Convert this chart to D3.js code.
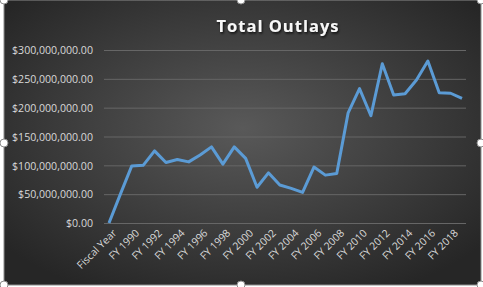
<!DOCTYPE html>
<html>
<head>
<meta charset="utf-8">
<script src="https://cdn.jsdelivr.net/npm/d3@7"></script>
<style>
  body { margin: 0; background: #fff; }
  svg { display: block; }
</style>
</head>
<body>
<div id="chart"></div>
<script>
// categories and values
const categories = ['Fiscal Year'];
for (let y = 1989; y <= 2019; y++) categories.push('FY ' + y);
const outlays = [0, 50e6, 99e6, 100e6, 125e6, 105e6, 110e6, 106e6, 118e6, 132e6,
                 102e6, 132e6, 112e6, 62e6, 87e6, 66e6, 60e6, 53e6, 97e6, 83e6,
                 86e6, 191e6, 233e6, 186e6, 276e6, 222e6, 224e6, 248e6, 281e6, 226e6,
                 225e6, 216e6];
const yTicks = [0, 50e6, 100e6, 150e6, 200e6, 250e6, 300e6];

const width = 483, height = 287;
const plotLeft = 109, plotRight = 462, plotTop = 50, plotBottom = 223;

const svg = d3.select('#chart').append('svg')
    .attr('width', width)
    .attr('height', height);

// background gradient
const defs = svg.append('defs');
const grad = defs.append('radialGradient')
    .attr('id', 'bg')
    .attr('cx', '50%').attr('cy', '45%').attr('r', '65%');
grad.append('stop').attr('offset', '0%').attr('stop-color', '#595959');
grad.append('stop').attr('offset', '100%').attr('stop-color', '#262626');

const shadow = defs.append('filter').attr('id', 'shadow')
    .attr('x', '-10%').attr('y', '-30%').attr('width', '120%').attr('height', '160%');
shadow.append('feDropShadow')
    .attr('dx', 1).attr('dy', 1.5).attr('stdDeviation', 1)
    .attr('flood-color', '#000').attr('flood-opacity', 0.8);

svg.append('rect')
    .attr('x', 4).attr('y', 0)
    .attr('width', 477).attr('height', 285)
    .attr('fill', 'url(#bg)')
    .attr('stroke', '#8c8c8c')
    .attr('stroke-width', 1);

//Scales
const xScale = d3.scalePoint()
    .domain(categories)
    .range([plotLeft, plotRight]);

const yScale = d3.scaleLinear()
    .domain([0, 300e6])
    .range([plotBottom, plotTop]);

// gridlines
svg.append('g')
    .selectAll('line')
    .data(yTicks)
    .enter()
    .append('line')
    .attr('x1', 104)
    .attr('x2', 466)
    .attr('y1', d => yScale(d) + 0.5)
    .attr('y2', d => yScale(d) + 0.5)
    .attr('stroke', '#666')
    .attr('stroke-width', 1);

//Axes
const yAxis = d3.axisLeft(yScale)
    .tickValues(yTicks)
    .tickSize(0)
    .tickPadding(0)
    .tickFormat(d => '$' + d3.format(',.2f')(d));

const yG = svg.append('g')
    .attr('transform', 'translate(93,0)')
    .call(yAxis);
yG.select('.domain').remove();
yG.selectAll('text')
    .attr('fill', '#d9d9d9')
    .attr('font-family', 'Open Sans, sans-serif')
    .attr('font-size', '10.6px')
    .attr('dy', '0.35em');

const xAxis = d3.axisBottom(xScale)
    .tickValues(categories.filter((d, i) => i % 2 == 0))
    .tickSize(0);

const xG = svg.append('g')
    .attr('transform', 'translate(0,' + (plotBottom + 6) + ')')
    .call(xAxis);
xG.select('.domain').remove();
xG.selectAll('text')
    .attr('fill', '#d9d9d9')
    .attr('font-family', 'Open Sans, sans-serif')
    .attr('font-size', '10.4px')
    .attr('text-anchor', 'end')
    .attr('dy', '0.35em')
    .attr('transform', 'translate(3,0) rotate(-45)');

// the line
const line = d3.line()
    .x((d, i) => xScale(categories[i]))
    .y(d => yScale(d));

svg.append('path')
    .datum(outlays)
    .attr('d', line)
    .attr('fill', 'none')
    .attr('stroke', '#5b9bd5')
    .attr('stroke-width', 3)
    .attr('stroke-linejoin', 'round');

// title
svg.append('text')
    .attr('x', 278)
    .attr('y', 32)
    .attr('text-anchor', 'middle')
    .attr('fill', '#f7f7f7')
    .attr('font-family', 'Open Sans, sans-serif')
    .attr('font-weight', 'bold')
    .attr('font-size', '16.5px')
    .attr('letter-spacing', '1px')
    .attr('filter', 'url(#shadow)')
    .text('Total Outlays');

// selection handles
const handles = [[4, 0], [241, 0], [481, 0], [4, 143], [481, 143], [4, 285], [241, 285], [481, 285]];
svg.append('g')
    .selectAll('circle')
    .data(handles)
    .enter()
    .append('circle')
    .attr('cx', d => d[0])
    .attr('cy', d => d[1])
    .attr('r', 4)
    .attr('fill', '#fff')
    .attr('stroke', '#8c8c8c')
    .attr('stroke-width', 1);
</script>
</body>
</html>
